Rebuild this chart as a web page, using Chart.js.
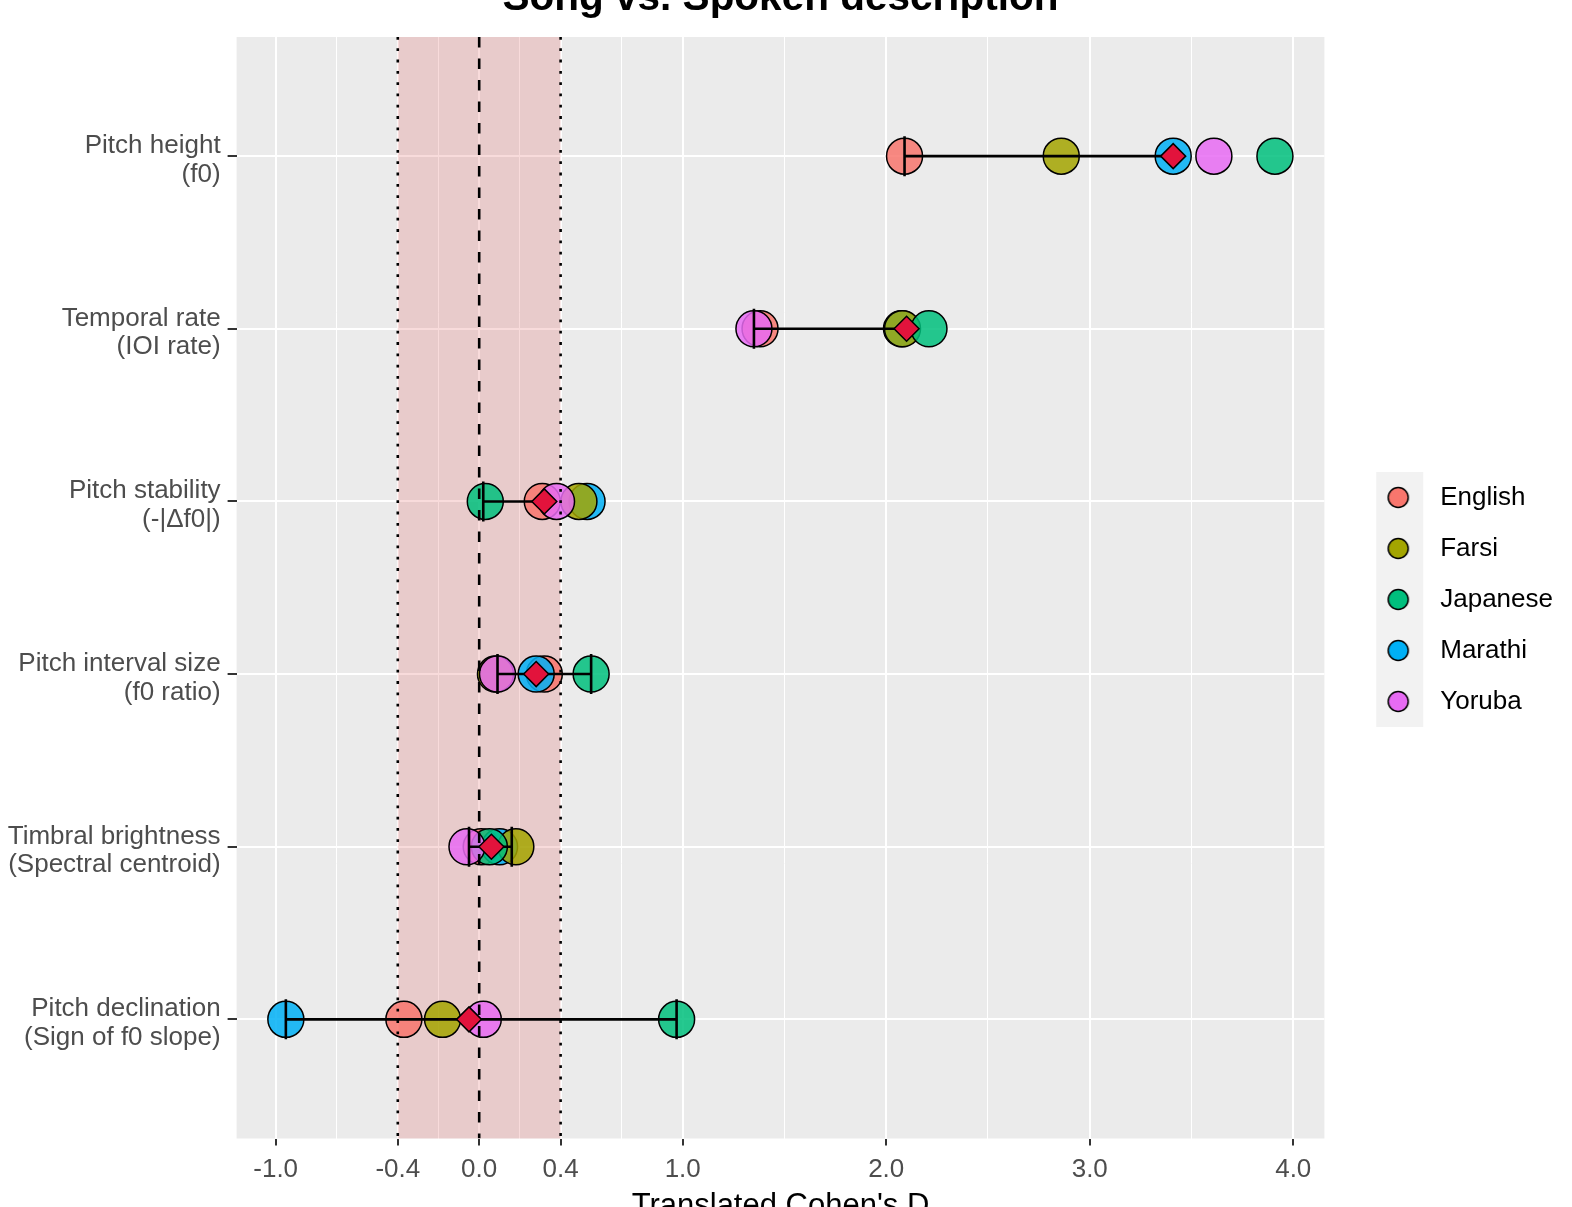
<!DOCTYPE html>
<html><head><meta charset="utf-8">
<script src="https://cdn.jsdelivr.net/npm/chart.js@4.4.0/dist/chart.umd.min.js"></script>
<style>html,body{margin:0;padding:0;background:#fff;} #wrap{width:1572px;height:1207px;position:relative;}</style>
</head><body><div id="wrap"><canvas id="c"></canvas></div>
<script>
// ---------------- data ----------------
const featureLabels = [
  ["Pitch height", "(f0)"],
  ["Temporal rate", "(IOI rate)"],
  ["Pitch stability", "(-|\u0394f0|)"],
  ["Pitch interval size", "(f0 ratio)"],
  ["Timbral brightness", "(Spectral centroid)"],
  ["Pitch declination", "(Sign of f0 slope)"]
];
const languages = ["English", "Farsi", "Japanese", "Marathi", "Yoruba"];
const english  = [2.09, 1.38, 0.31, 0.32, 0.01, -0.37];
const farsi    = [2.86, 2.08, 0.49, 0.08, 0.18, -0.18];
const japanese = [3.91, 2.21, 0.03, 0.55, 0.05, 0.97];
const marathi  = [3.41, 2.075, 0.53, 0.28, 0.10, -0.95];
const yoruba   = [3.61, 1.35, 0.38, 0.09, -0.06, 0.02];
const estimate = [3.41, 2.10, 0.32, 0.28, 0.06, -0.05];
const intervalLow  = [2.09, 1.35, 0.02, 0.09, -0.05, -0.95];
const intervalHigh = [null, null, null, 0.55, 0.16, 0.97]; // null: bar ends at the estimate, no cap
const xMajorTicks = [-1.0, -0.4, 0.0, 0.4, 1.0, 2.0, 3.0, 4.0];
const xMinorTicks = [-0.7, -0.2, 0.2, 0.7, 1.5, 2.5, 3.5];
const nullBand = [-0.4, 0.4];

// ---------------- styling ----------------
const FONT = "'Liberation Sans', Arial, Helvetica, sans-serif";
Chart.defaults.font.family = FONT;
const TXT = 26;
const langColors = ['#F8766D', '#A3A500', '#00BF7D', '#00B0F6', '#E76BF3'];
const drawOrder = [7, 5, 4, 6, 3]; // higher = drawn earlier (below)
function withAlpha(hex, a) {
  const n = parseInt(hex.slice(1), 16);
  return `rgba(${(n >> 16) & 255},${(n >> 8) & 255},${n & 255},${a})`;
}
const series = [english, farsi, japanese, marathi, yoruba];
const isMajor = v => xMajorTicks.some(m => Math.abs(m - v) < 1e-6);

function makeKey(color) {
  const c = document.createElement('canvas');
  c.width = 82; c.height = 51;
  const g = c.getContext('2d');
  g.fillStyle = '#F2F2F2';
  g.fillRect(0, 0, 50, 51);
  g.beginPath();
  g.arc(25, 25.5, 10, 0, Math.PI * 2);
  g.fillStyle = color; g.fill();
  g.lineWidth = 1.5; g.strokeStyle = '#000'; g.stroke();
  return c;
}
const keyImages = langColors.map(makeKey);

const datasets = [];
languages.forEach((name, i) => {
  datasets.push({
    type: 'scatter', label: name,
    data: series[i].map((v, r) => ({x: v, y: r + 1})),
    pointStyle: 'circle', pointRadius: 18, pointHoverRadius: 18,
    pointBackgroundColor: withAlpha(langColors[i], 0.85),
    backgroundColor: withAlpha(langColors[i], 0.85),
    pointBorderColor: '#000', borderColor: '#000', pointBorderWidth: 1.5,
    order: drawOrder[i]
  });
});
featureLabels.forEach((_, r) => {
  const hi = intervalHigh[r] === null ? estimate[r] : intervalHigh[r];
  datasets.push({
    type: 'line', label: '_bar' + r,
    data: [{x: intervalLow[r], y: r + 1}, {x: hi, y: r + 1}],
    borderColor: '#000', borderWidth: 2.6, pointRadius: 0, pointHoverRadius: 0,
    fill: false, order: 2
  });
});
const capData = [];
featureLabels.forEach((_, r) => {
  capData.push({x: intervalLow[r], y: r + 1});
  if (intervalHigh[r] !== null) capData.push({x: intervalHigh[r], y: r + 1});
});
datasets.push({
  type: 'scatter', label: '_caps', data: capData,
  pointStyle: 'line', pointRotation: 90, pointRadius: 20, pointHoverRadius: 20,
  pointBorderColor: '#000', borderColor: '#000', pointBorderWidth: 2.6, order: 1
});
datasets.push({
  type: 'scatter', label: '_estimate',
  data: estimate.map((v, r) => ({x: v, y: r + 1})),
  pointStyle: 'rectRot', pointRadius: 12.5, pointHoverRadius: 12.5,
  pointBackgroundColor: '#E2133C', backgroundColor: '#E2133C',
  pointBorderColor: '#000', borderColor: '#000', pointBorderWidth: 1.5, order: 0
});

const panelPlugin = {
  id: 'panel',
  beforeDraw(chart) {
    const {ctx, chartArea: a} = chart;
    ctx.save();
    ctx.fillStyle = '#EBEBEB';
    ctx.fillRect(a.left, a.top, a.right - a.left, a.bottom - a.top);
    ctx.restore();
  },
  beforeDatasetsDraw(chart) {
    const {ctx, chartArea: a, scales: {x}} = chart;
    const x0 = x.getPixelForValue(nullBand[0]), x1 = x.getPixelForValue(nullBand[1]);
    ctx.save();
    ctx.fillStyle = 'rgba(225,90,90,0.22)';
    ctx.fillRect(x0, a.top, x1 - x0, a.bottom - a.top);
    ctx.restore();
  },
  afterDatasetsDraw(chart) {
    const {ctx, chartArea: a, scales: {x}} = chart;
    ctx.save();
    ctx.beginPath(); ctx.rect(a.left, a.top, a.right - a.left, a.bottom - a.top); ctx.clip();
    ctx.strokeStyle = '#000'; ctx.lineWidth = 2.6; ctx.lineCap = 'butt';
    ctx.setLineDash([2.8, 8.5]);
    nullBand.forEach(v => {
      const px = x.getPixelForValue(v);
      ctx.beginPath(); ctx.moveTo(px, a.top); ctx.lineTo(px, a.bottom); ctx.stroke();
    });
    ctx.setLineDash([10.5, 11]);
    const p0 = x.getPixelForValue(0);
    ctx.beginPath(); ctx.moveTo(p0, a.top); ctx.lineTo(p0, a.bottom); ctx.stroke();
    ctx.restore();
  }
};

const PLOT_LEFT = 236.6, PLOT_RIGHT = 1324.4, PLOT_BOTTOM = 1138.5, PAD_RIGHT = 9, PAD_TOP = -8;

new Chart(document.getElementById('c'), {
  type: 'scatter',
  data: {datasets},
  plugins: [panelPlugin],
  options: {
    responsive: true, maintainAspectRatio: false, animation: false, events: [],
    layout: {padding: {left: 0, right: PAD_RIGHT, top: PAD_TOP, bottom: 0}},
    scales: {
      x: {
        type: 'linear', min: -1.192, max: 4.153,
        afterBuildTicks(s) {
          s.ticks = [...xMajorTicks, ...xMinorTicks].sort((a, b) => a - b).map(v => ({value: v}));
        },
        ticks: {
          autoSkip: false, maxRotation: 0, minRotation: 0, padding: 9,
          color: '#4D4D4D', font: {size: TXT},
          callback: v => isMajor(v) ? v.toFixed(1) : ''
        },
        grid: {
          color: '#FFFFFF',
          lineWidth: c => (c.tick && isMajor(c.tick.value)) ? 2 : 1,
          drawTicks: true, tickLength: 7, tickWidth: 2,
          tickColor: c => (c.tick && isMajor(c.tick.value)) ? '#333333' : 'rgba(0,0,0,0)'
        },
        border: {display: false},
        title: {display: true, text: "Translated Cohen's D", color: '#000', font: {size: 31}, padding: {top: 0, bottom: -18}},
        afterFit(s) { s.height = s.chart.height - PLOT_BOTTOM; }
      },
      y: {
        type: 'linear', reverse: true, min: 0.31, max: 6.69, position: 'left',
        afterBuildTicks(s) { s.ticks = featureLabels.map((_, i) => ({value: i + 1})); },
        ticks: {
          autoSkip: false, padding: 7, color: '#4D4D4D', labelOffset: 4,
          font: {size: TXT, lineHeight: 1.1},
          callback: v => featureLabels[Math.round(v) - 1]
        },
        grid: {color: '#FFFFFF', lineWidth: 2, drawTicks: true, tickLength: 9, tickWidth: 2, tickColor: '#333333'},
        border: {display: false},
        afterFit(s) { s.width = PLOT_LEFT; }
      },
      gap: {
        type: 'linear', position: 'right', display: true, min: 0, max: 1,
        grid: {display: false}, border: {display: false}, ticks: {display: false},
        afterFit(s) {
          const lg = s.chart.legend;
          let w = 52.6;
          if (lg && lg.width) w = (s.chart.width - PAD_RIGHT - lg.width) - PLOT_RIGHT;
          s.width = Math.max(0, w);
        }
      }
    },
    plugins: {
      tooltip: {enabled: false},
      title: {
        display: true, text: 'Song vs. Spoken description', fullSize: false,
        color: '#000', font: {size: 40.5, weight: 'bold'},
        padding: {top: -17.2, bottom: 13.6}
      },
      legend: {
        display: true, position: 'right', align: 'center',
        labels: {
          usePointStyle: true, boxWidth: TXT, boxHeight: 14, padding: 25,
          color: '#000', font: {size: TXT},
          generateLabels(chart) {
            const items = Chart.defaults.plugins.legend.labels.generateLabels(chart);
            return items.filter(it => it.datasetIndex < languages.length)
              .sort((a, b) => a.datasetIndex - b.datasetIndex)
              .map(it => Object.assign(it, {pointStyle: keyImages[it.datasetIndex]}));
          }
        }
      }
    }
  }
});
</script>
</body></html>
